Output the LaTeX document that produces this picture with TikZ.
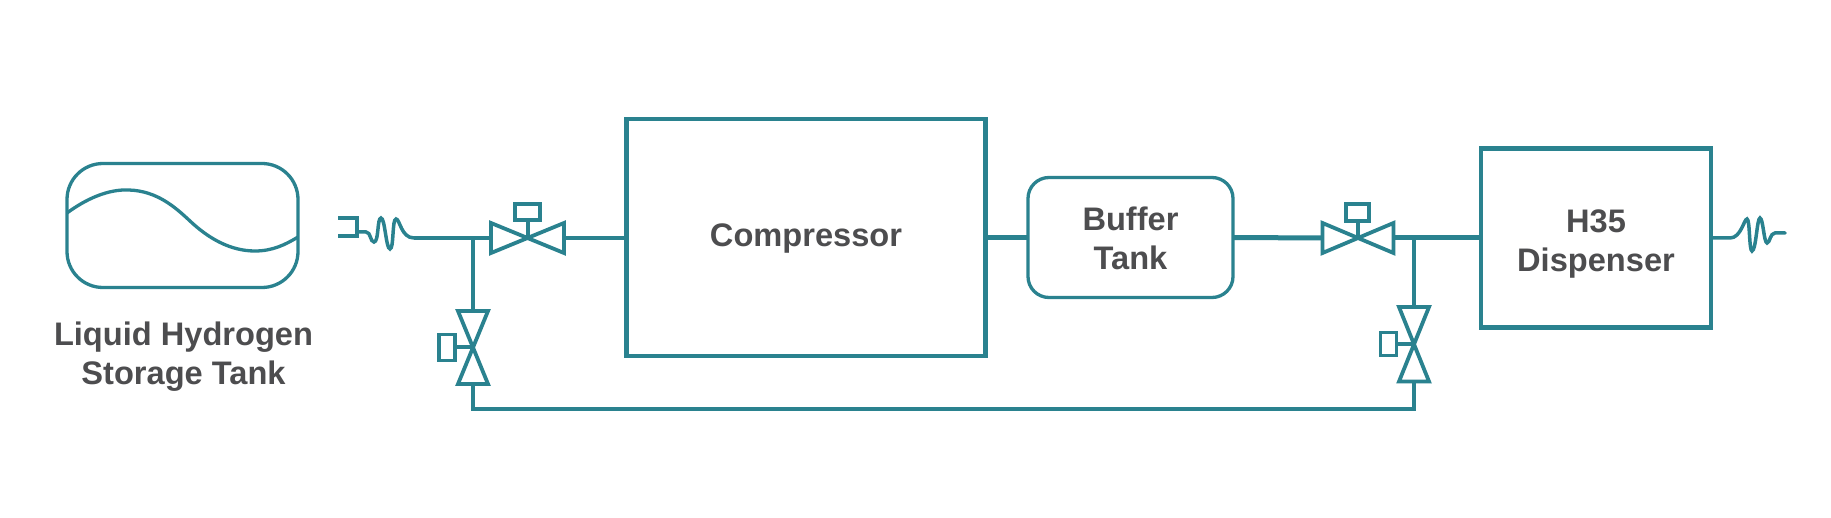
\documentclass[tikz,border=0pt]{standalone}
\usepackage{fontspec}
\setmainfont{Liberation Sans}
\definecolor{teal1}{HTML}{2A828F}
\definecolor{ink}{HTML}{4D4D4F}
\tikzset{
  x=1pt,y=-1pt,
  pipe/.style={draw=teal1,line width=4pt},
  thickpipe/.style={draw=teal1,line width=5pt},
  hose/.style={draw=teal1,line width=3.5pt,line cap=round},
  vessel/.style={draw=teal1,line width=3.3pt,rounded corners=#1,inner sep=0pt,outer sep=0pt},
  block/.style={draw=teal1,line width=4.2pt,inner sep=0pt,outer sep=0pt},
  valvebody/.style={draw=teal1,line width=3.8pt,line join=miter,fill=white},
  handle/.style={draw=teal1,line width=3.8pt,inner sep=0pt,outer sep=0pt},
  lbl/.style={font=\bfseries\fontsize{32.6}{39}\selectfont,text=ink,align=center,inner sep=0pt},
}
\begin{document}
\begin{tikzpicture}
\useasboundingbox (0,0) rectangle (1831,518);
\fill[white] (0,0) rectangle (1831,518);

% tank
\node[vessel=36pt,minimum width=231pt,minimum height=124pt] (tank) at (182.5,225.5) {};
\draw[draw=teal1,line width=3.3pt] (tank.west |- 0,213) .. controls (86,199) and (108,189) .. (129,190)
  .. controls (157,191) and (175,207) .. (190,221) .. controls (208,238) and (230,251) .. (255,251)
  .. controls (272,251) and (285,245) .. (tank.east |- 0,237);
\node[lbl] (tanklabel) at (183.5,356.5) {Liquid Hydrogen\\Storage Tank};

% blocks
\node[block,minimum width=359pt,minimum height=237pt] (comp) at (806,237.5) {};
\node[lbl] (complabel) at ([yshift=-1pt]comp.center) {Compressor};
\node[vessel=21pt,minimum width=205pt,minimum height=120pt] (buf) at (1130.5,237.5) {};
\node[lbl] (buflabel) at ([yshift=-0.5pt]buf.center) {Buffer\\Tank};
\node[block,minimum width=230pt,minimum height=179pt] (disp) at (1596,238) {};
\node[lbl] (displabel) at ([yshift=-6pt]disp.center) {H35\\Dispenser};

% valve coordinates
\coordinate (va) at (527.5,238);
\coordinate (vb) at (1358,238);
\coordinate (vc) at (473,347);
\coordinate (vd) at (1414,344);
\coordinate (vaw) at (491,238);
\coordinate (vae) at (564,238);
\coordinate (vbw) at (1322.5,238);
\coordinate (vbe) at (1393.5,238);
\coordinate (vcn) at (473,311);
\coordinate (vcs) at (473,384);
\coordinate (vdn) at (1414,307);
\coordinate (vds) at (1414,381.5);
\coordinate (ja) at (473,238);
\coordinate (jb) at (1414,238);
\coordinate (ca) at (473,408.5);
\coordinate (cb) at (1414,408.5);
\coordinate (hoseend) at (414,238);

% pipes
\draw[pipe] (hoseend) -- (vaw);
\draw[pipe] (vae) -- (comp.west |- vae);
\draw[thickpipe] (comp.east |- buf.west) -- (buf.west);
\draw[thickpipe] (buf.east) -- (vbw);
\draw[thickpipe] (vbe) -- (disp.west);
\draw[pipe] (ja) -- (vcn);
\draw[pipe] (jb) -- (vdn);
\draw[pipe,line join=miter] (vcs) -- (ca) -- (cb) -- (vds);

% inlet fitting and flexible hose
\draw[pipe] (338,218) -- (357,218) -- (357,236) -- (338,236);
\draw[hose] (357,232) -- (366,232)
  .. controls (371,232) and (370,242) .. (374,242)
  .. controls (379,242) and (377,218) .. (381,218)
  .. controls (385,218) and (386,249) .. (390,249)
  .. controls (394,249) and (392,219) .. (396,219)
  .. controls (400,219) and (401,238) .. (hoseend);
% outlet hose
\draw[hose] (disp.east) -- (1730,238)
  .. controls (1741,238) and (1744,219) .. (1747,219)
  .. controls (1750,219) and (1749,251) .. (1752,251)
  .. controls (1756,251) and (1757,218) .. (1760,218)
  .. controls (1763,218) and (1764,243) .. (1767,243)
  .. controls (1770,243) and (1770,233) .. (1775,233) -- (1785,233);

% horizontal valves
\draw[valvebody] (vaw |- 0,223) -- (vae |- 0,253) -- (vae |- 0,223) -- (vaw |- 0,253) -- cycle;
\node[handle,minimum width=25pt,minimum height=16pt] (ha) at (527.5,212) {};
\draw[pipe] (va) -- (ha.south);
\draw[valvebody] (vbw |- 0,223) -- (vbe |- 0,253) -- (vbe |- 0,223) -- (vbw |- 0,253) -- cycle;
\node[handle,minimum width=23pt,minimum height=17pt] (hb) at (1357.7,212.5) {};
\draw[pipe] (vb) -- (hb.south -| vb);
% vertical valves
\draw[valvebody] (458,311) -- (488,384) -- (458,384) -- (488,311) -- cycle;
\node[handle,minimum width=16pt,minimum height=26pt] (hc) at (447.2,347.5) {};
\draw[pipe] (vc) -- (hc.east |- vc);
\draw[valvebody] (1399,307) -- (1429,381.5) -- (1399,381.5) -- (1429,307) -- cycle;
\node[handle,minimum width=16pt,minimum height=23pt] (hd) at (1388.5,344) {};
\draw[pipe] (vd) -- (hd.east |- vd);
\end{tikzpicture}
\end{document}
